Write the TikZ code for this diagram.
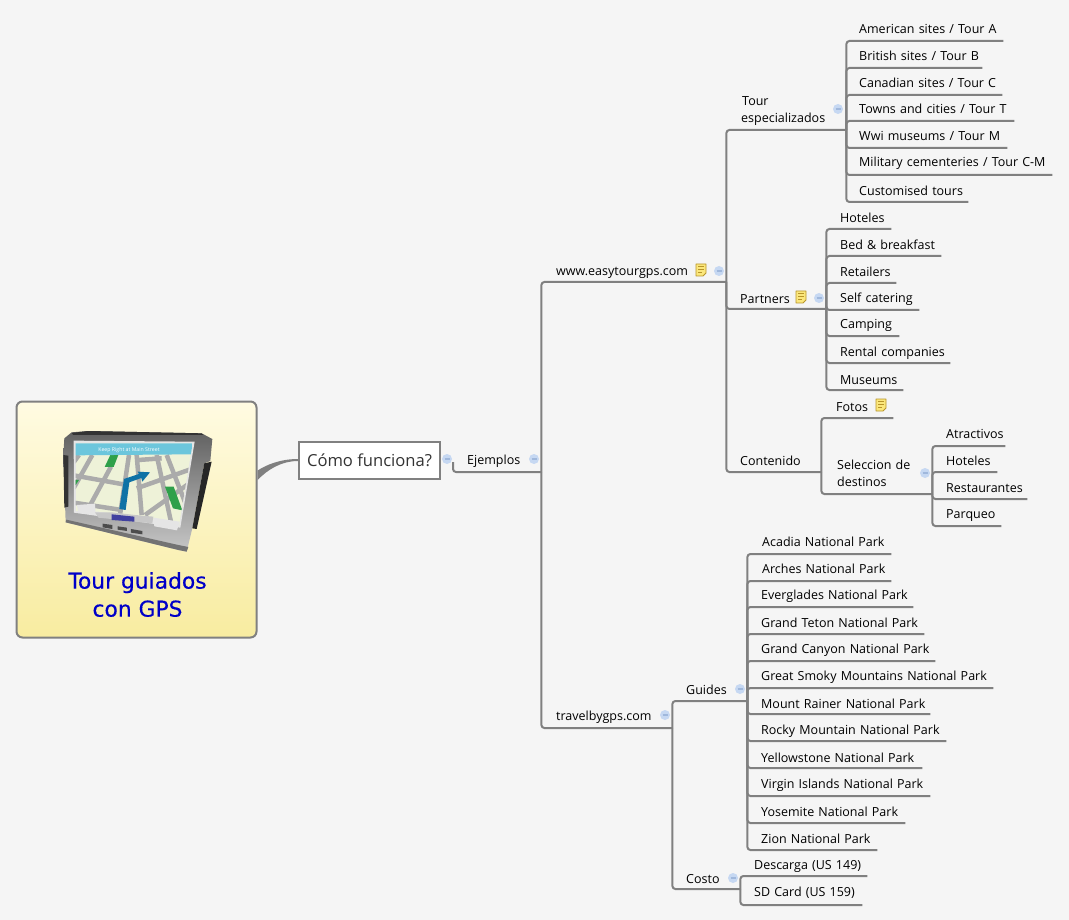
\documentclass[tikz,border=0pt]{standalone}
\usepackage{fontspec}
\setmainfont{Open Sans}
\newfontfamily\titlefont[FakeBold=0.35]{DejaVu Sans}
\usetikzlibrary{calc}

\definecolor{pagegray}{HTML}{F5F5F5}
\definecolor{linkgray}{HTML}{808080}
\definecolor{centertop}{HTML}{FFFBE2}
\definecolor{centerbottom}{HTML}{F8ECA0}
\definecolor{titleblue}{HTML}{0000C8}
\definecolor{minusblue}{HTML}{C6D8F2}
\definecolor{minusline}{HTML}{A0B8DC}
\definecolor{notefill}{HTML}{FBE77C}
\definecolor{noteline}{HTML}{B8952A}
\definecolor{mapground}{HTML}{EEF2D8}
\definecolor{maproad}{HTML}{ABABAB}
\definecolor{mapblue}{HTML}{6CC6DC}
\definecolor{mapgreen}{HTML}{2FA04A}
\definecolor{maparrow}{HTML}{0E72A6}

\tikzset{
  link/.style={draw=linkgray,line width=2pt,rounded corners=3pt},
  topic/.style n args={3}{anchor=south west,inner sep=0pt,align=left,font=\fontsize{12.5}{17}\selectfont,
    text width=#2pt,text depth=#3pt-5.4pt,execute at begin node={\hspace*{#1pt}}},
  center/.style={draw=linkgray,line width=2pt,rounded corners=6pt,top color=centertop,bottom color=centerbottom,
    minimum width=240pt,minimum height=236pt,inner sep=0pt},
  centertext/.style={inner sep=0pt,align=center,text=titleblue,font=\titlefont\fontsize{21.8}{28}\selectfont},
  mainbox/.style={draw=linkgray,line width=2pt,fill=white,minimum width=141pt,minimum height=37pt,inner sep=0pt,
    text=black!80,font=\fontsize{16.6}{18}\selectfont},
  road/.style={maproad,line width=4.5pt},
  minuspic/.pic={
    \fill [minusblue] (0,0) circle (5);
    \draw [minusline,line width=1.2pt] (-2.5,0) -- (2.5,0);
  },
  notepic/.pic={
    \draw [noteline,fill=notefill,line width=0.9pt,line join=round] (-5,-6) -- (5,-6) -- (5,3) -- (2,6) -- (-5,6) -- cycle;
    \draw [noteline,line width=0.8pt] (-3,-3.2) -- (3,-3.2);
    \draw [noteline,line width=0.8pt] (-3,-0.4) -- (3,-0.4);
    \draw [noteline,line width=0.8pt] (-3,2.4) -- (1,2.4);
  }
}

\begin{document}
\begin{tikzpicture}[x=1pt,y=-1pt]

\useasboundingbox (0,0) rectangle (1069,920);
\fill [pagegray] (0,0) rectangle (1069,920);

% center
\node [center] (tour) at (136.5,519.5) {};
\node [centertext] (tourtext) at (137.5,594.5) {Tour guiados\\con GPS};
\node [mainbox] (funciona) at (369.5,460) {Cómo funciona?};

% gps device, in the pixels of a 3x crop
\begin{scope}[shift={(55,425)},x=0.3333pt,y=-0.3333pt]
\shade [top color=black!62,bottom color=black!22] (28,40) -- (50,22) -- (100,18) -- (440,25) -- (472,42) -- (466,108) -- (448,115) -- (412,310) -- (395,380) -- (370,375) -- (32,292) -- (25,90) -- cycle;
\fill [black!80] (50,24) -- (100,18) -- (440,25) -- (445,30) -- (55,30) -- cycle;
\fill [black!80] (25,90) -- (40,92) -- (40,245) -- (28,248) -- cycle;
\fill [black!85] (448,115) -- (470,110) -- (425,312) -- (412,310) -- cycle;
\fill [black!55] (32,292) -- (370,375) -- (395,380) -- (400,366) -- (370,360) -- (34,284) -- cycle;
\fill [black!10] (56,47) -- (419,50) -- (376,308) -- (57,263) -- cycle;
\begin{scope}
\clip (62,55) -- (413,55) -- (372,302) -- (280,280) -- (130,260) -- (62,258) -- cycle;
\fill [mapground] (62,55) rectangle (413,302);
\draw [road] (112,90) -- (50,200);
\draw [road] (72,90) -- (50,120);
\draw [road] (168,125) -- (95,260);
\draw [road] (50,150) -- (205,178);
\draw [road] (50,232) -- (200,255);
\draw [road] (222,90) -- (195,270);
\draw [road] (245,90) -- (260,270);
\draw [road] (305,90) -- (350,300);
\draw [road] (335,90) -- (405,270);
\draw [road] (245,190) -- (415,130);
\draw [road] (250,105) -- (320,100);
\draw [road] (270,270) -- (410,170);
\fill [mapgreen] (166,90) -- (190,90) -- (176,126) -- (149,126) -- cycle;
\fill [mapgreen] (330,185) -- (356,185) -- (382,256) -- (354,250) -- cycle;
\fill [mapgreen] (62,165) -- (72,165) -- (62,180) -- cycle;
\fill [mapblue] (62,55) -- (413,55) -- (408,88) -- (62,91) -- cycle;
\end{scope}
\node [inner sep=0pt,text=white,font=\fontsize{5.2}{6}\selectfont] (streetbar) at (222,75) {Keep Right at Main Street};
\fill [maparrow] (193,252) -- (207,162) -- (252,147) -- (248,140) -- (285,142) -- (262,170) -- (259,159) -- (223,172) -- (212,255) -- cycle;
\fill [black!10] (66,240) -- (120,236) -- (122,268) -- (70,264) -- cycle;
\fill [black!10] (295,278) -- (374,290) -- (366,316) -- (298,304) -- cycle;
\fill [black!22] (120,262) -- (170,262) -- (240,270) -- (295,275) -- (292,295) -- (130,278) -- cycle;
\fill [blue!50!black!75] (170,268) -- (238,275) -- (238,290) -- (170,285) -- cycle;
\fill [black!70] (143,296) -- (172,300) -- (172,312) -- (143,307) -- cycle;
\fill [black!70] (188,304) -- (216,308) -- (216,318) -- (188,314) -- cycle;
\fill [black!70] (228,312) -- (262,318) -- (262,328) -- (228,323) -- cycle;
\end{scope}

% topics
\node [topic={13}{87}{13}] (ejemplos) at (454,472) {Ejemplos};
\node [topic={15}{185}{12}] (www) at (541,282) {www.easytourgps.com};
\node [topic={15}{131}{13}] (travel) at (541,728) {travelbygps.com};

\node [topic={16}{120}{30}] (especial) at (726,130) {Tour\\\hspace*{15pt}especializados};
\node [topic={14}{100}{11}] (partners) at (726,309) {Partners};
\node [topic={14}{95}{12}] (contenido) at (726,472) {Contenido};

\node [topic={13}{157}{13}] (american) at (846,41) {American sites / Tour A};
\node [topic={13}{136}{13}] (british) at (846,68) {British sites / Tour B};
\node [topic={13}{156}{13}] (canadian) at (846,95) {Canadian sites / Tour C};
\node [topic={13}{168}{13}] (towns) at (846,121) {Towns and cities / Tour T};
\node [topic={13}{161}{13}] (wwi) at (846,148) {Wwi museums / Tour M};
\node [topic={13}{206}{14}] (military) at (846,175) {Military cementeries / Tour C-M};
\node [topic={13}{122}{12}] (custom) at (846,202) {Customised tours};

\node [topic={14}{65}{12}] (hoteles) at (826,229) {Hoteles};
\node [topic={14}{115}{12}] (bed) at (826,256) {Bed \& breakfast};
\node [topic={14}{70}{12}] (retailers) at (826,283) {Retailers};
\node [topic={14}{93}{13}] (selfcat) at (826,310) {Self catering};
\node [topic={14}{73}{13}] (camping) at (826,336) {Camping};
\node [topic={14}{124}{12}] (rental) at (826,363) {Rental companies};
\node [topic={14}{77}{11}] (museums) at (826,390) {Museums};

\node [topic={15}{72}{12}] (fotos) at (821,418) {Fotos};
\node [topic={16}{111}{30}] (seleccion) at (821,494) {Seleccion de\\\hspace*{16pt}destinos};
\node [topic={14}{73}{13}] (atractivos) at (932,446) {Atractivos};
\node [topic={14}{65}{12}] (hotelesb) at (932,472) {Hoteles};
\node [topic={14}{95}{12}] (restaurantes) at (932,499) {Restaurantes};
\node [topic={14}{69}{13}] (parqueo) at (932,526) {Parqueo};

\node [topic={14}{75}{12}] (guides) at (672,701) {Guides};
\node [topic={14}{68}{11}] (costo) at (672,889) {Costo};

\node [topic={15}{144}{13}] (acadia) at (747,554) {Acadia National Park};
\node [topic={15}{144}{13}] (arches) at (747,581) {Arches National Park};
\node [topic={14}{166}{13}] (everglades) at (747,607) {Everglades National Park};
\node [topic={14}{177}{12}] (teton) at (747,634) {Grand Teton National Park};
\node [topic={14}{188}{13}] (canyon) at (747,661) {Grand Canyon National Park};
\node [topic={14}{246}{13}] (smoky) at (747,688) {Great Smoky Mountains National Park};
\node [topic={14}{183}{11}] (rainer) at (747,714) {Mount Rainer National Park};
\node [topic={14}{199}{12}] (rocky) at (747,741) {Rocky Mountain National Park};
\node [topic={14}{175}{11}] (yellow) at (747,768) {Yellowstone National Park};
\node [topic={14}{183}{13}] (virgin) at (747,796) {Virgin Islands National Park};
\node [topic={14}{158}{12}] (yosemite) at (747,823) {Yosemite National Park};
\node [topic={14}{130}{12}] (zion) at (747,850) {Zion National Park};

\node [topic={14}{127}{12}] (descarga) at (740,876) {Descarga (US 149)};
\node [topic={14}{122}{14}] (sdcard) at (740,905) {SD Card (US 159)};

% links
\fill [linkgray] (tour.22.5) .. controls (266,465) and (280,459) .. ([yshift=1pt]funciona.west)
  -- ([yshift=-1pt]funciona.west) .. controls (282,461) and (268,469) .. (tour.18.5) -- cycle;
\draw [link] ($(funciona.east)+(12,2)$) |- (ejemplos.south east);

\draw [link] (ejemplos.south east) |- (www.south east);
\draw [link] (ejemplos.south east) |- (travel.south east);

\draw [link] (www.south east) |- (especial.south east);
\draw [link] (www.south east) |- (partners.south east);
\draw [link] (www.south east) |- (contenido.south east);

\draw [link] (especial.south east) |- (american.south east);
\draw [link] (especial.south east) |- (british.south east);
\draw [link] (especial.south east) |- (canadian.south east);
\draw [link] (especial.south east) |- (towns.south east);
\draw [link] (especial.south east) |- (wwi.south east);
\draw [link] (especial.south east) |- (military.south east);
\draw [link] (especial.south east) |- (custom.south east);

\draw [link] (partners.south east) |- (hoteles.south east);
\draw [link] (partners.south east) |- (bed.south east);
\draw [link] (partners.south east) |- (retailers.south east);
\draw [link] (partners.south east) |- (selfcat.south east);
\draw [link] (partners.south east) |- (camping.south east);
\draw [link] (partners.south east) |- (rental.south east);
\draw [link] (partners.south east) |- (museums.south east);

\draw [link] (contenido.south east) |- (fotos.south east);
\draw [link] (contenido.south east) |- (seleccion.south east);

\draw [link] (seleccion.south east) |- (atractivos.south east);
\draw [link] (seleccion.south east) |- (hotelesb.south east);
\draw [link] (seleccion.south east) |- (restaurantes.south east);
\draw [link] (seleccion.south east) |- (parqueo.south east);

\draw [link] (travel.south east) |- (guides.south east);
\draw [link] (travel.south east) |- (costo.south east);

\draw [link] (guides.south east) |- (acadia.south east);
\draw [link] (guides.south east) |- (arches.south east);
\draw [link] (guides.south east) |- (everglades.south east);
\draw [link] (guides.south east) |- (teton.south east);
\draw [link] (guides.south east) |- (canyon.south east);
\draw [link] (guides.south east) |- (smoky.south east);
\draw [link] (guides.south east) |- (rainer.south east);
\draw [link] (guides.south east) |- (rocky.south east);
\draw [link] (guides.south east) |- (yellow.south east);
\draw [link] (guides.south east) |- (virgin.south east);
\draw [link] (guides.south east) |- (yosemite.south east);
\draw [link] (guides.south east) |- (zion.south east);

\draw [link] (costo.south east) |- (descarga.south east);
\draw [link] (costo.south east) |- (sdcard.south east);

% fold marks and notes
\pic at (447,459) {minuspic};
\pic at (534,459) {minuspic};
\pic at (719,271) {minuspic};
\pic at (838,109) {minuspic};
\pic at (819,298) {minuspic};
\pic at (925,473) {minuspic};
\pic at (665,715) {minuspic};
\pic at (740,689) {minuspic};
\pic at (733,878) {minuspic};
\pic at (701,270) {notepic};
\pic at (801,297) {notepic};
\pic at (881,405) {notepic};

\end{tikzpicture}
\end{document}
